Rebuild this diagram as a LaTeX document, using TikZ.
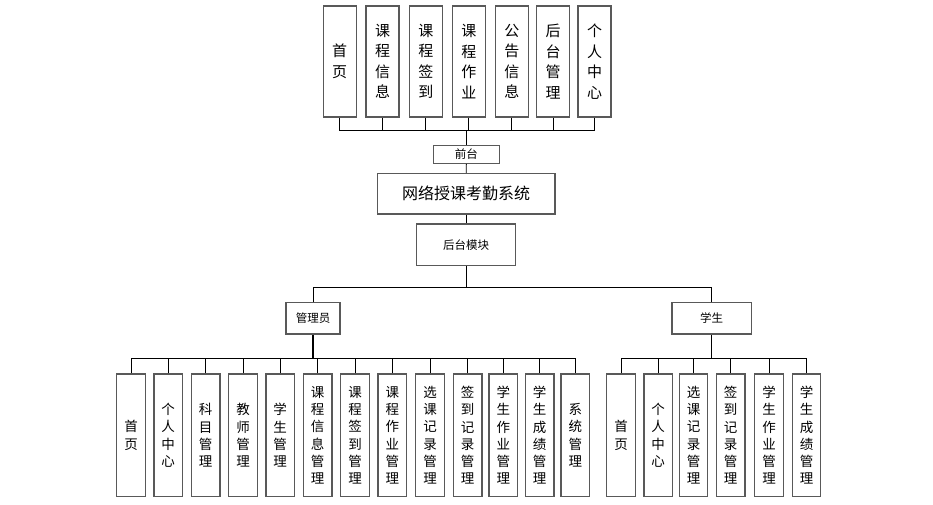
\documentclass[tikz,border=0pt]{standalone}
\usepackage{fontspec}
\setmainfont{Noto Sans CJK SC}
\begin{document}
\begin{tikzpicture}[x=1pt,y=-1pt,
  bx/.style={draw=black!65,line width=1.2pt,fill=white,inner sep=0pt,align=center},
  topbox/.style={bx,minimum width=33pt,minimum height=111pt,font=\fontsize{15}{20.5}\selectfont},
  botbox/.style={bx,minimum width=28.6pt,minimum height=122.7pt,font=\fontsize{13.5}{17.3}\selectfont},
  smallbox/.style={bx,font=\fontsize{11.5}{13}\selectfont},
  ln/.style={draw=black,line width=0.9pt},
  thick ln/.style={draw=black,line width=2pt}]
\useasboundingbox (0,0) rectangle (933,504);
% top boxes
\node[topbox] (t1) at (339.7,61.5) {首\\页};
\node[topbox] (t2) at (382.5,61.5) {课\\程\\信\\息};
\node[topbox] (t3) at (425.8,61.5) {课\\程\\签\\到};
\node[topbox] (t4) at (468.8,61.5) {课\\程\\作\\业};
\node[topbox] (t5) at (511.8,61.5) {公\\告\\信\\息};
\node[topbox] (t6) at (553,61.5) {后\\台\\管\\理};
\node[topbox] (t7) at (594.5,61.5) {个\\人\\中\\心};
% middle
\node[smallbox,minimum width=66pt,minimum height=17.6pt] (qt) at (466.3,154.5) {前台};
\node[bx,minimum width=177.7pt,minimum height=40.7pt,font=\fontsize{16}{18}\selectfont] (sys) at (466.2,193.7) {网络授课考勤系统};
\node[smallbox,minimum width=99pt,minimum height=41.3pt] (ht) at (466.2,244.7) {后台模块};
\node[smallbox,minimum width=54pt,minimum height=31.3pt] (adm) at (313,318.3) {管理员};
\node[smallbox,minimum width=79.3pt,minimum height=31.3pt] (stu) at (711.7,318.3) {学生};
% admin children
\node[botbox] (a1) at (131,435.3) {首\\页};
\node[botbox] (a2) at (168.2,435.3) {个\\人\\中\\心};
\node[botbox] (a3) at (205.7,435.3) {科\\目\\管\\理};
\node[botbox] (a4) at (243,435.3) {教\\师\\管\\理};
\node[botbox] (a5) at (280.2,435.3) {学\\生\\管\\理};
\node[botbox] (a6) at (317.7,435.3) {课\\程\\信\\息\\管\\理};
\node[botbox] (a7) at (355,435.3) {课\\程\\签\\到\\管\\理};
\node[botbox] (a8) at (392.3,435.3) {课\\程\\作\\业\\管\\理};
\node[botbox] (a9) at (430,435.3) {选\\课\\记\\录\\管\\理};
\node[botbox] (a10) at (467.7,435.3) {签\\到\\记\\录\\管\\理};
\node[botbox] (a11) at (503.3,435.3) {学\\生\\作\\业\\管\\理};
\node[botbox] (a12) at (539.7,435.3) {学\\生\\成\\绩\\管\\理};
\node[botbox] (a13) at (575.3,435.3) {系\\统\\管\\理};
% student children
\node[botbox] (s1) at (621,435.3) {首\\页};
\node[botbox] (s2) at (658.2,435.3) {个\\人\\中\\心};
\node[botbox] (s3) at (693.5,435.3) {选\\课\\记\\录\\管\\理};
\node[botbox] (s4) at (730.7,435.3) {签\\到\\记\\录\\管\\理};
\node[botbox] (s5) at (769,435.3) {学\\生\\作\\业\\管\\理};
\node[botbox] (s6) at (806.5,435.3) {学\\生\\成\\绩\\管\\理};
% bus coordinates
\coordinate (tb) at (466.3,130.7);
\coordinate (mb) at (466.2,287.3);
\coordinate (ab) at (313,358.3);
\coordinate (sb) at (711.7,358.3);
% top connectors
\draw[ln] (t1.south) -- (t1.south |- tb) -- (t7.south |- tb) -- (t7.south);
\foreach \n in {t2,t3,t4,t5,t6} \draw[ln] (\n.south) -- (\n.south |- tb);
\draw[ln] (tb) -- (qt.north);
\draw[ln] (qt.south) -- (sys.north);
\draw[ln] (sys.south) -- (ht.north);
\draw[ln] (ht.south) -- (mb);
\draw[ln] (adm.north) -- (adm.north |- mb) -- (stu.north |- mb) -- (stu.north);
% admin
\draw[thick ln] (adm.south) -- (ab);
\draw[ln] (a1.north) -- (a1.north |- ab) -- (a13.north |- ab) -- (a13.north);
\foreach \n in {a2,a3,a4,a5,a6,a7,a8,a9,a10,a11,a12} \draw[ln] (\n.north) -- (\n.north |- ab);
% student
\draw[ln] (stu.south) -- (sb);
\draw[ln] (s1.north) -- (s1.north |- sb) -- (s6.north |- sb) -- (s6.north);
\foreach \n in {s2,s3,s4,s5} \draw[ln] (\n.north) -- (\n.north |- sb);
\end{tikzpicture}
\end{document}
